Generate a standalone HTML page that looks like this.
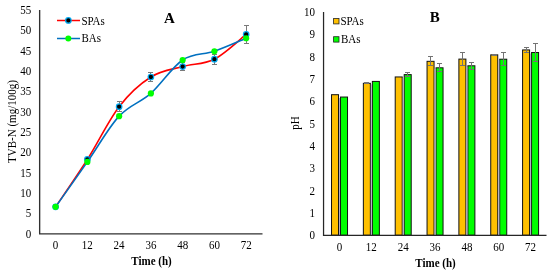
<!DOCTYPE html><html><head><meta charset="utf-8"><style>html,body{margin:0;padding:0;background:#fff;width:550px;height:274px;overflow:hidden}svg{display:block}text{font-family:"Liberation Serif","Times New Roman",serif;fill:#000}</style></head><body>
<svg width="550" height="274" viewBox="0 0 550 274">
<rect width="550" height="274" fill="#fff"/>
<text transform="translate(31.3,237.7) scale(1,1.04)" font-size="11" text-anchor="end">0</text>
<text transform="translate(31.3,217.36) scale(1,1.04)" font-size="11" text-anchor="end">5</text>
<text transform="translate(31.3,197.03) scale(1,1.04)" font-size="11" text-anchor="end">10</text>
<text transform="translate(31.3,176.69) scale(1,1.04)" font-size="11" text-anchor="end">15</text>
<text transform="translate(31.3,156.35) scale(1,1.04)" font-size="11" text-anchor="end">20</text>
<text transform="translate(31.3,136.02) scale(1,1.04)" font-size="11" text-anchor="end">25</text>
<text transform="translate(31.3,115.68) scale(1,1.04)" font-size="11" text-anchor="end">30</text>
<text transform="translate(31.3,95.35) scale(1,1.04)" font-size="11" text-anchor="end">35</text>
<text transform="translate(31.3,75.01) scale(1,1.04)" font-size="11" text-anchor="end">40</text>
<text transform="translate(31.3,54.67) scale(1,1.04)" font-size="11" text-anchor="end">45</text>
<text transform="translate(31.3,34.34) scale(1,1.04)" font-size="11" text-anchor="end">50</text>
<text transform="translate(31.3,14) scale(1,1.04)" font-size="11" text-anchor="end">55</text>
<text transform="translate(55.6,249.3) scale(1,1.04)" font-size="11" text-anchor="middle">0</text>
<text transform="translate(87.36,249.3) scale(1,1.04)" font-size="11" text-anchor="middle">12</text>
<text transform="translate(119.12,249.3) scale(1,1.04)" font-size="11" text-anchor="middle">24</text>
<text transform="translate(150.88,249.3) scale(1,1.04)" font-size="11" text-anchor="middle">36</text>
<text transform="translate(182.64,249.3) scale(1,1.04)" font-size="11" text-anchor="middle">48</text>
<text transform="translate(214.4,249.3) scale(1,1.04)" font-size="11" text-anchor="middle">60</text>
<text transform="translate(246.16,249.3) scale(1,1.04)" font-size="11" text-anchor="middle">72</text>
<text transform="translate(151.5,265.2) scale(1,1.08)" font-size="11" text-anchor="middle" font-weight="bold">Time (h)</text>
<text transform="translate(15.7,121.5) rotate(-90) scale(1,1.04)" font-size="11" text-anchor="middle">TVB-N (mg/100g)</text>
<text transform="translate(169.5,23.1) scale(1,1.04)" font-size="15" text-anchor="middle" font-weight="bold">A</text>
<path d="M55.6,206.86 C60.89,198.95 76.77,176.13 87.36,159.43 C97.95,142.73 108.53,120.38 119.12,106.64 C129.71,92.9 140.29,83.67 150.88,76.99 C161.47,70.3 172.05,69.5 182.64,66.54 C193.23,63.57 203.81,64.56 214.4,59.21 C224.99,53.87 240.87,38.57 246.16,34.44" fill="none" stroke="#FF0000" stroke-width="1.6"/>
<path d="M119.5,101.5V111.5M117,101.5h5M117,111.5h5" stroke="#7a7a7a" stroke-width="1" fill="none"/>
<path d="M150.5,72.5V81.5M148,72.5h5M148,81.5h5" stroke="#7a7a7a" stroke-width="1" fill="none"/>
<path d="M182.5,62.5V70.5M180,62.5h5M180,70.5h5" stroke="#7a7a7a" stroke-width="1" fill="none"/>
<path d="M214.5,54.5V64.5M212,54.5h5M212,64.5h5" stroke="#7a7a7a" stroke-width="1" fill="none"/>
<path d="M246.5,25.5V43.5M244,25.5h5M244,43.5h5" stroke="#7a7a7a" stroke-width="1" fill="none"/>
<circle cx="55.6" cy="206.86" r="2.75" fill="#000" stroke="#00A8F0" stroke-width="1.2"/>
<circle cx="87.36" cy="159.43" r="2.75" fill="#000" stroke="#00A8F0" stroke-width="1.2"/>
<circle cx="119.12" cy="106.64" r="2.75" fill="#000" stroke="#00A8F0" stroke-width="1.2"/>
<circle cx="150.88" cy="76.99" r="2.75" fill="#000" stroke="#00A8F0" stroke-width="1.2"/>
<circle cx="182.64" cy="66.54" r="2.75" fill="#000" stroke="#00A8F0" stroke-width="1.2"/>
<circle cx="214.4" cy="59.21" r="2.75" fill="#000" stroke="#00A8F0" stroke-width="1.2"/>
<circle cx="246.16" cy="34.44" r="2.75" fill="#000" stroke="#00A8F0" stroke-width="1.2"/>
<path d="M55.6,206.86 C60.89,199.37 76.77,177.03 87.36,161.91 C97.95,146.8 108.53,127.58 119.12,116.16 C129.71,104.73 140.29,102.73 150.88,93.38 C161.47,84.02 172.05,67.04 182.64,60.03 C193.23,53.01 203.81,54.91 214.4,51.28 C224.99,47.66 240.87,40.44 246.16,38.27" fill="none" stroke="#0070C0" stroke-width="1.6"/>
<circle cx="55.6" cy="206.86" r="3.1" fill="#00FF00"/>
<circle cx="87.36" cy="161.91" r="3.1" fill="#00FF00"/>
<circle cx="119.12" cy="116.16" r="3.1" fill="#00FF00"/>
<circle cx="150.88" cy="93.38" r="3.1" fill="#00FF00"/>
<circle cx="182.64" cy="60.03" r="3.1" fill="#00FF00"/>
<circle cx="214.4" cy="51.28" r="3.1" fill="#00FF00"/>
<circle cx="246.16" cy="38.27" r="3.1" fill="#00FF00"/>
<path d="M39.65,10V233.85H262.5" fill="none" stroke="#303030" stroke-width="1.35"/>
<path d="M57,20.5H80" stroke="#FF0000" stroke-width="1.5"/>
<circle cx="68.4" cy="20.45" r="2.75" fill="#000" stroke="#00A8F0" stroke-width="1.2"/>
<text transform="translate(81.4,24.6) scale(1,1.04)" font-size="11">SPAs</text>
<path d="M57,38.5H80" stroke="#0070C0" stroke-width="1.5"/>
<circle cx="68.3" cy="38.45" r="3.0" fill="#00FF00"/>
<text transform="translate(81.4,42.3) scale(1,1.04)" font-size="11">BAs</text>
<text transform="translate(315.1,239.2) scale(1,1.04)" font-size="11" text-anchor="end">0</text>
<text transform="translate(315.1,216.88) scale(1,1.04)" font-size="11" text-anchor="end">1</text>
<text transform="translate(315.1,194.56) scale(1,1.04)" font-size="11" text-anchor="end">2</text>
<text transform="translate(315.1,172.24) scale(1,1.04)" font-size="11" text-anchor="end">3</text>
<text transform="translate(315.1,149.92) scale(1,1.04)" font-size="11" text-anchor="end">4</text>
<text transform="translate(315.1,127.6) scale(1,1.04)" font-size="11" text-anchor="end">5</text>
<text transform="translate(315.1,105.28) scale(1,1.04)" font-size="11" text-anchor="end">6</text>
<text transform="translate(315.1,82.96) scale(1,1.04)" font-size="11" text-anchor="end">7</text>
<text transform="translate(315.1,60.64) scale(1,1.04)" font-size="11" text-anchor="end">8</text>
<text transform="translate(315.1,38.32) scale(1,1.04)" font-size="11" text-anchor="end">9</text>
<text transform="translate(315.1,16) scale(1,1.04)" font-size="11" text-anchor="end">10</text>
<text transform="translate(339.52,250.6) scale(1,1.04)" font-size="11" text-anchor="middle">0</text>
<text transform="translate(371.36,250.6) scale(1,1.04)" font-size="11" text-anchor="middle">12</text>
<text transform="translate(403.21,250.6) scale(1,1.04)" font-size="11" text-anchor="middle">24</text>
<text transform="translate(435.05,250.6) scale(1,1.04)" font-size="11" text-anchor="middle">36</text>
<text transform="translate(466.89,250.6) scale(1,1.04)" font-size="11" text-anchor="middle">48</text>
<text transform="translate(498.74,250.6) scale(1,1.04)" font-size="11" text-anchor="middle">60</text>
<text transform="translate(530.58,250.6) scale(1,1.04)" font-size="11" text-anchor="middle">72</text>
<text transform="translate(435.5,266.8) scale(1,1.08)" font-size="11" text-anchor="middle" font-weight="bold">Time (h)</text>
<text transform="translate(298.7,123) rotate(-90) scale(1,1.04)" font-size="11" text-anchor="middle">pH</text>
<text transform="translate(434.7,21.6) scale(1,1.04)" font-size="15" text-anchor="middle" font-weight="bold">B</text>
<rect x="331.52" y="94.7" width="7" height="140.5" fill="#FFC000" stroke="#111" stroke-width="1"/>
<rect x="340.52" y="97.04" width="7" height="138.16" fill="#00FF00" stroke="#111" stroke-width="1"/>
<rect x="339.02" y="98.04" width="1" height="137.16" fill="#b0aac4"/>
<rect x="363.36" y="83.31" width="7" height="151.89" fill="#FFC000" stroke="#111" stroke-width="1"/>
<rect x="372.36" y="81.42" width="7" height="153.78" fill="#00FF00" stroke="#111" stroke-width="1"/>
<rect x="370.86" y="84.31" width="1" height="150.89" fill="#b0aac4"/>
<rect x="395.21" y="76.95" width="7" height="158.25" fill="#FFC000" stroke="#111" stroke-width="1"/>
<rect x="404.21" y="74.61" width="7" height="160.59" fill="#00FF00" stroke="#111" stroke-width="1"/>
<rect x="402.71" y="77.95" width="1" height="157.25" fill="#b0aac4"/>
<rect x="427.05" y="61.33" width="7" height="173.87" fill="#FFC000" stroke="#111" stroke-width="1"/>
<rect x="436.05" y="67.8" width="7" height="167.4" fill="#00FF00" stroke="#111" stroke-width="1"/>
<rect x="434.55" y="68.8" width="1" height="166.4" fill="#b0aac4"/>
<rect x="458.89" y="59.1" width="7" height="176.1" fill="#FFC000" stroke="#111" stroke-width="1"/>
<rect x="467.89" y="65.79" width="7" height="169.41" fill="#00FF00" stroke="#111" stroke-width="1"/>
<rect x="466.39" y="66.79" width="1" height="168.41" fill="#b0aac4"/>
<rect x="490.74" y="54.85" width="7" height="180.35" fill="#FFC000" stroke="#111" stroke-width="1"/>
<rect x="499.74" y="59.21" width="7" height="175.99" fill="#00FF00" stroke="#111" stroke-width="1"/>
<rect x="498.24" y="60.21" width="1" height="174.99" fill="#b0aac4"/>
<rect x="522.58" y="49.94" width="7" height="185.26" fill="#FFC000" stroke="#111" stroke-width="1"/>
<rect x="531.58" y="52.51" width="7" height="182.69" fill="#00FF00" stroke="#111" stroke-width="1"/>
<rect x="530.08" y="53.51" width="1" height="181.69" fill="#b0aac4"/>
<path d="M366.5,82.5V83.5M364,82.5h5M364,83.5h5" stroke="#737373" stroke-width="1" fill="none"/>
<path d="M407.5,72.5V76.5M405,72.5h5M405,76.5h5" stroke="#737373" stroke-width="1" fill="none"/>
<path d="M430.5,56.5V65.5M428,56.5h5M428,65.5h5" stroke="#737373" stroke-width="1" fill="none"/>
<path d="M439.5,63.5V71.5M437,63.5h5M437,71.5h5" stroke="#737373" stroke-width="1" fill="none"/>
<path d="M462.5,52.5V65.5M460,52.5h5M460,65.5h5" stroke="#737373" stroke-width="1" fill="none"/>
<path d="M471.5,62.5V69.5M469,62.5h5M469,69.5h5" stroke="#737373" stroke-width="1" fill="none"/>
<path d="M494.5,54.5V55.5M492,54.5h5M492,55.5h5" stroke="#737373" stroke-width="1" fill="none"/>
<path d="M503.5,52.5V65.5M501,52.5h5M501,65.5h5" stroke="#737373" stroke-width="1" fill="none"/>
<path d="M526.5,47.5V52.5M524,47.5h5M524,52.5h5" stroke="#737373" stroke-width="1" fill="none"/>
<path d="M535.5,43.5V61.5M533,43.5h5M533,61.5h5" stroke="#737373" stroke-width="1" fill="none"/>
<path d="M323.55,12V235.45H546.5" fill="none" stroke="#262626" stroke-width="1.25"/>
<rect x="333.6" y="18.5" width="5.4" height="5.4" fill="#FFC000" stroke="#222" stroke-width="0.8"/>
<text transform="translate(340.4,24.6) scale(1,1.04)" font-size="11">SPAs</text>
<rect x="333.6" y="36.7" width="5.4" height="5.4" fill="#00FF00" stroke="#222" stroke-width="0.8"/>
<text transform="translate(341,42.5) scale(1,1.04)" font-size="11">BAs</text>
</svg></body></html>
